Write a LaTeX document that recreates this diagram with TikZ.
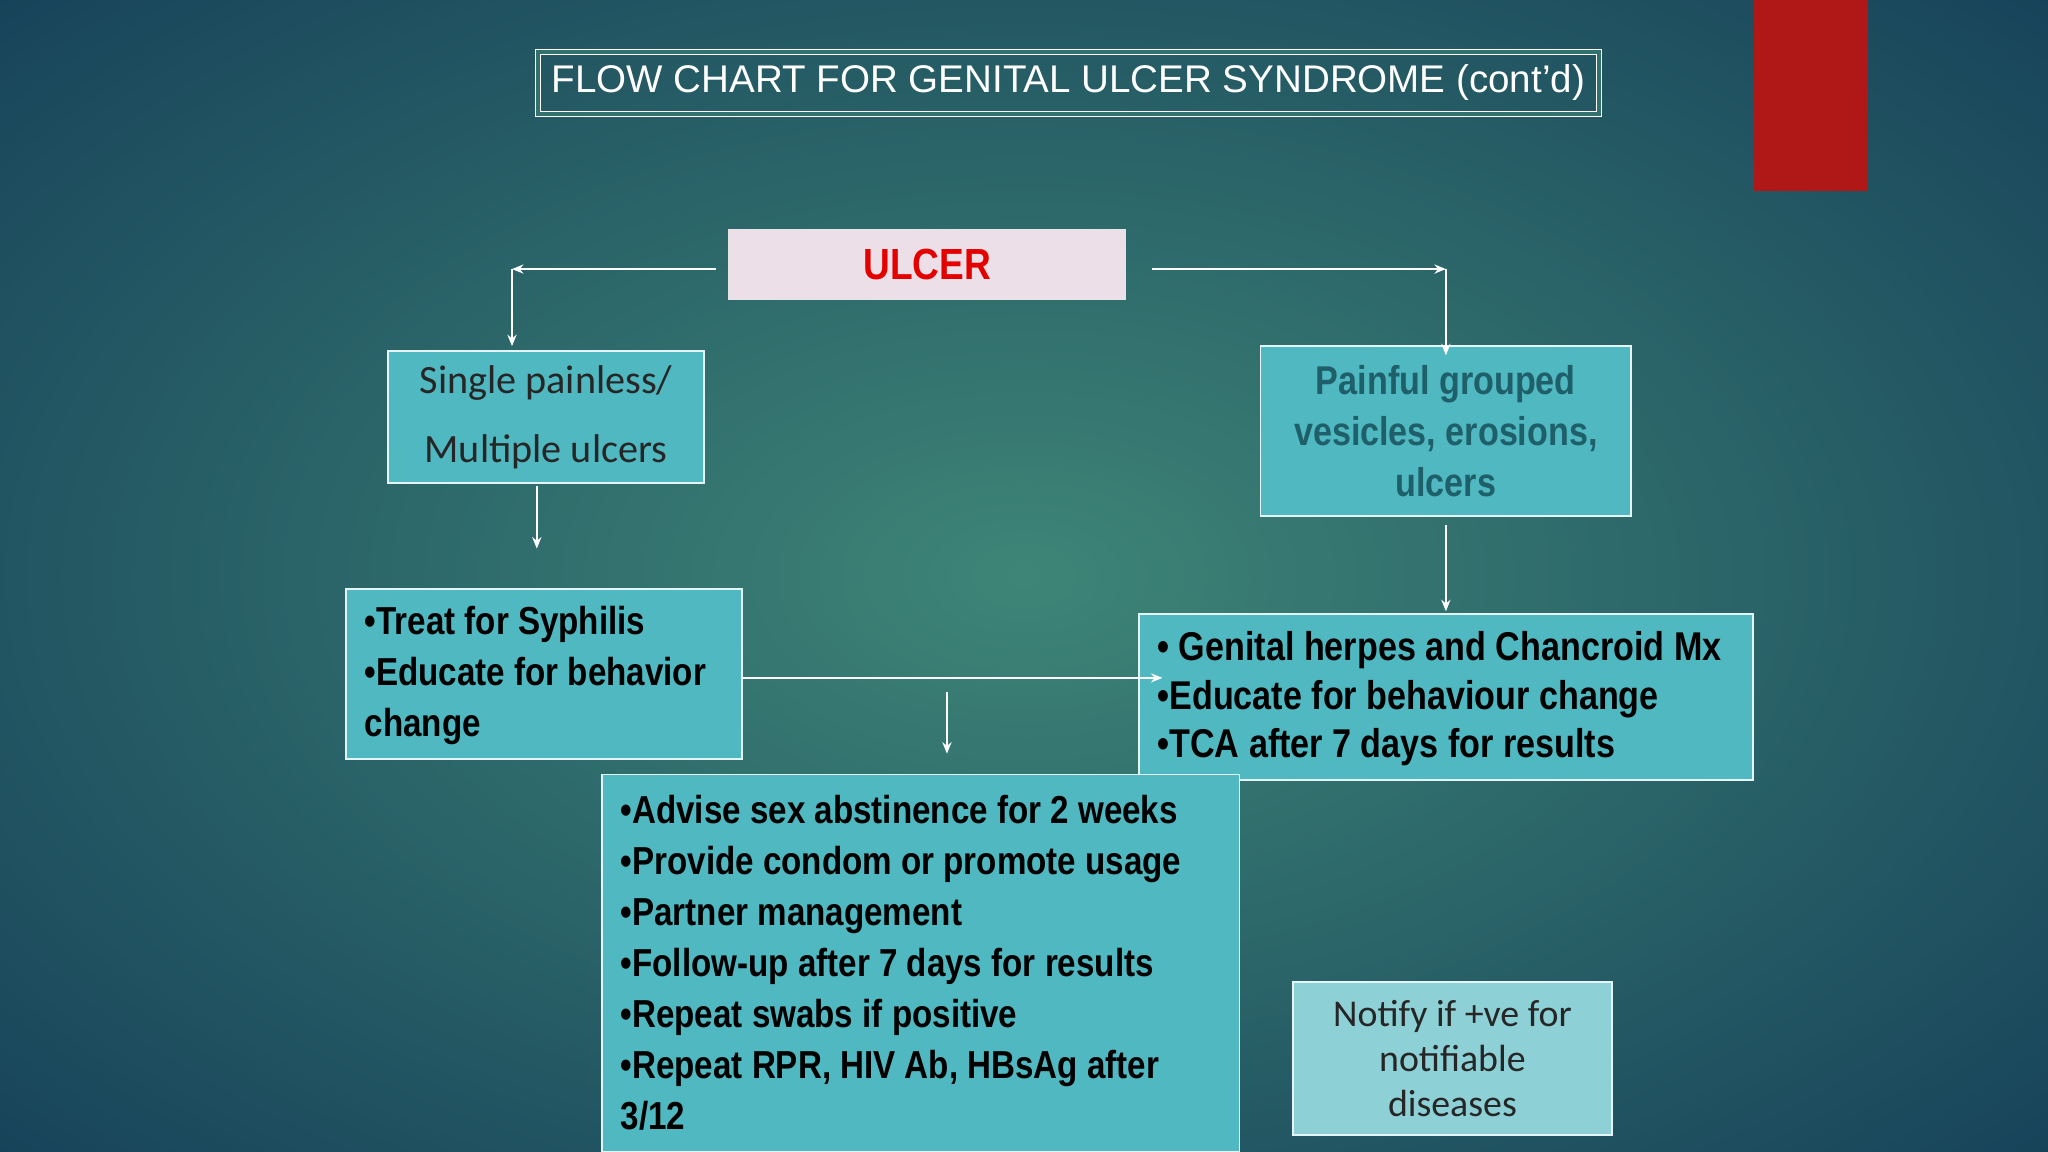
\documentclass[tikz,border=0pt]{standalone}
\usepackage{fontspec}
\setmainfont{Liberation Sans}
\newfontfamily\narrow{Liberation Sans}[FakeStretch=0.85]
\newfontfamily\calib{Carlito}
\usetikzlibrary{arrows.meta}
\definecolor{boxc}{HTML}{4FB8C0}
\definecolor{boxl}{HTML}{8DD0D6}
\definecolor{dteal}{HTML}{1F5F6A}
\definecolor{bgin}{HTML}{3E8577}
\definecolor{bgout}{HTML}{17435A}
\definecolor{ulc}{HTML}{ECDFE8}
\definecolor{redr}{HTML}{B01818}
\begin{document}
\begin{tikzpicture}[x=0.02cm,y=-0.02cm,
  box/.style={draw=white!85!boxc, line width=0.8pt, fill=boxc, inner sep=0pt},
  arr/.style={draw=white, line width=0.8pt, -{Stealth[length=5pt,width=4pt]}},
  bl/.style={font=\narrow\bfseries\fontsize{17}{22.2}\selectfont, align=left}]
\useasboundingbox (0,0) rectangle (1568,882);
\shade[inner color=bgin, outer color=bgout] (-300,-200) rectangle (1868,1082);
\fill[redr] (1343,0) rectangle (1430,146);
\node[draw=white, double=bgin!70!bgout, double distance=1.5pt, line width=0.7pt, minimum width=16.25cm, minimum height=0.95cm, text=white, font=\fontsize{16.8}{19}\selectfont] (title) at (818,63.5) {FLOW CHART FOR GENITAL ULCER SYNDROME (cont'd)};
\node[draw=white!80!gray, fill=ulc, minimum width=6.08cm, minimum height=1.06cm, font=\narrow\bfseries\fontsize{19}{22}\selectfont, text={red!90!black}] (ulcer) at (710,202.5) {ULCER};
\node[box, minimum width=4.84cm, minimum height=2.02cm, align=center, font=\calib\fontsize{17.5}{30}\selectfont, text=black!85] (single) at (418,319.5) {Single painless/\\Multiple ulcers};
\node[box, minimum width=5.68cm, minimum height=2.6cm, align=center, font=\narrow\bfseries\fontsize{17.5}{22.2}\selectfont, text=dteal] (painful) at (1107,330) {Painful grouped\\vesicles, erosions,\\ulcers};
\node[box, minimum width=6.06cm, minimum height=2.6cm] (treat) at (416.5,516) {};
\node[bl, anchor=west] at (273,517) {•Treat for Syphilis\\•Educate for behavior\\change};
\node[box, minimum width=9.4cm, minimum height=2.54cm] (genital) at (1107,533.5) {};
\node[bl, anchor=west, font=\narrow\bfseries\fontsize{17.5}{21}\selectfont] at (880,535) {• Genital herpes and Chancroid Mx\\•Educate for behaviour change\\•TCA after 7 days for results};
\node[box, minimum width=9.76cm, minimum height=5.78cm] (advise) at (705,737.5) {};
\node[bl, anchor=west] at (469,737) {•Advise sex abstinence for 2 weeks\\•Provide condom or promote usage\\•Partner management\\•Follow-up after 7 days for results\\•Repeat swabs if positive\\•Repeat RPR, HIV Ab, HBsAg after\\3/12};
\node[box, fill=boxl, minimum width=4.88cm, minimum height=2.34cm, align=center, font=\calib\fontsize{16.5}{19.5}\selectfont, text=black!85] (notify) at (1112,810.5) {Notify if +ve for\\notifiable\\diseases};
\coordinate (l1) at (548,206); \coordinate (l2) at (392,206); \coordinate (l3) at (392,265);
\coordinate (r1) at (882,206); \coordinate (r2) at (1107,206); \coordinate (r3) at (1107,272);
\draw[arr] (l1) -- (l2);
\draw[arr] (l2) -- (l3);
\draw[arr] (r1) -- (r2);
\draw[arr] (r2) -- (r3);
\coordinate (s1) at (411,372); \coordinate (s2) at (411,420);
\draw[arr] (s1) -- (s2);
\coordinate (p1) at (1107,402); \coordinate (p2) at (1107,468);
\draw[arr] (p1) -- (p2);
\coordinate (t1) at (568,519); \coordinate (t2) at (890,519);
\draw[arr] (t1) -- (t2);
\coordinate (m1) at (725,530); \coordinate (m2) at (725,577);
\draw[arr] (m1) -- (m2);
\end{tikzpicture}
\end{document}
